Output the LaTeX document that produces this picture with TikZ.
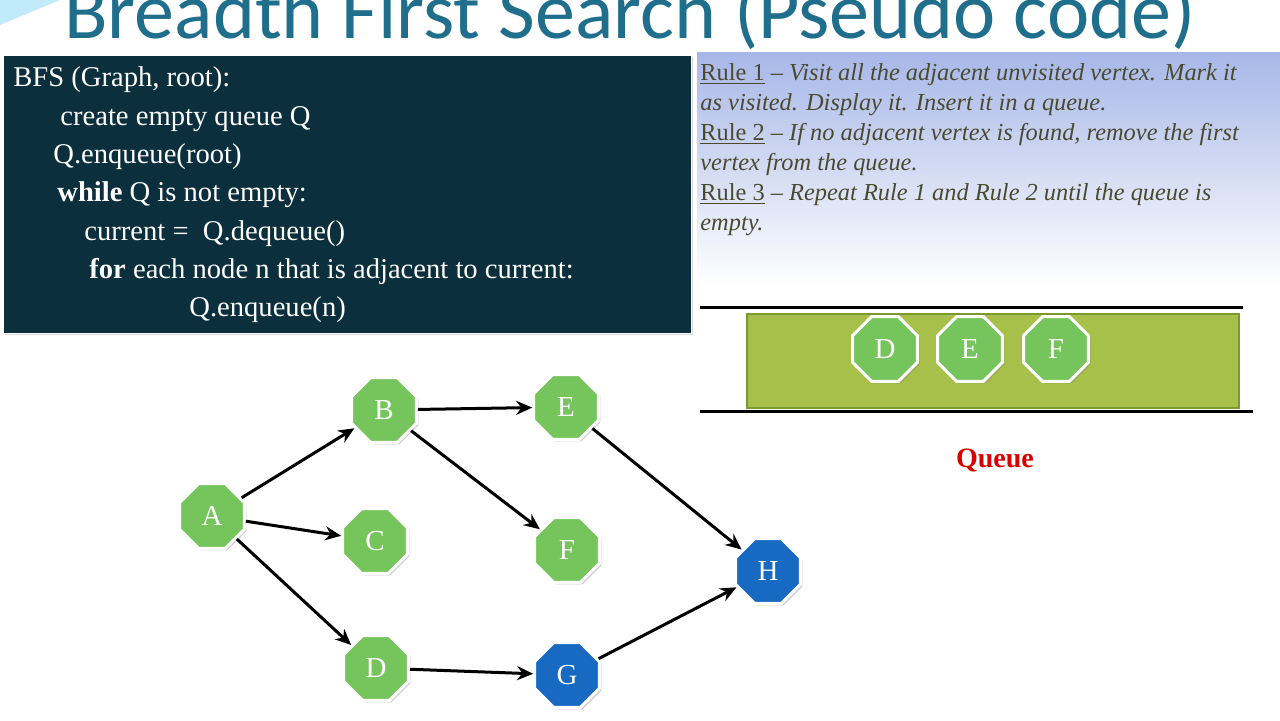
\documentclass[tikz,border=0pt]{standalone}
\usepackage{fontspec}
\setmainfont{Liberation Serif}
\newfontfamily\titlefont{Carlito}
\usetikzlibrary{shapes.geometric,arrows.meta,shadows}
\definecolor{teal1}{HTML}{1F6E8C}
\definecolor{codebg}{HTML}{0C2F3D}
\definecolor{gr}{HTML}{76C55C}
\definecolor{bl}{HTML}{1769C2}
\definecolor{qfill}{HTML}{A6C04A}
\definecolor{qedge}{HTML}{7A9A30}
\definecolor{ruletxt}{HTML}{4A4A30}
\definecolor{lav}{HTML}{A7B7E8}
\begin{document}
\begin{tikzpicture}[x=0.5pt,y=-0.5pt,
  oct/.style={regular polygon,regular polygon sides=8,minimum size=35pt,inner sep=0pt,
    fill=gr,draw=white,line width=1.5pt,text=white,font=\fontsize{14.5}{14.5}\selectfont,
    drop shadow={shadow xshift=1pt,shadow yshift=-1pt,opacity=0.4}},
  blue/.style={oct,fill=bl},
  edge/.style={-{Stealth[length=8pt,width=7pt]},line width=1.5pt,black},
  code/.style={anchor=base west,inner sep=0pt,text=white,font=\fontsize{14.3}{14.3}\selectfont},
  rule/.style={anchor=base west,inner sep=0pt,text=ruletxt,font=\fontsize{12.2}{12.2}\selectfont}]
\useasboundingbox (0,0) rectangle (1280,720);
\fill[white] (0,0) rectangle (1280,720);
% title
\node[anchor=base,text=teal1,font=\titlefont\fontsize{40}{40}\selectfont] (title) at (630,38) {Breadth First Search (Pseudo code)};
\fill[cyan!40,opacity=0.6] (0,0) -- (60,0) -- (0,25) -- cycle;
% code box
\node[draw=white,fill=codebg,minimum width=344pt,minimum height=139pt,anchor=north west,inner sep=0pt,
  drop shadow={shadow xshift=1pt,shadow yshift=-1pt,opacity=0.3}] (codebox) at (3,55) {};
\node[code] (c1) at (13,86) {BFS (Graph, root):};
\node[code] (c2) at (60,125) {create empty queue Q};
\node[code] (c3) at (53,163) {Q.enqueue(root)};
\node[code] (c4) at (57,201) {\textbf{while} Q is not empty:};
\node[code] (c5) at (84,240) {current =\ \ Q.dequeue()};
\node[code] (c6) at (89,278) {\textbf{for} each node n that is adjacent to current:};
\node[code] (c7) at (189,316) {Q.enqueue(n)};
% rules box
\shade[top color=lav,bottom color=white] (697,52) rectangle (1280,285);
\begin{scope}
\clip (697,52) rectangle (1280,285);
\node[rule] (r1) at (700,80) {\underline{Rule 1} -- \textit{Visit all the adjacent unvisited vertex. Mark it}};
\node[rule] (r2) at (700,110) {\textit{as visited. Display it. Insert it in a queue.}};
\node[rule] (r3) at (700,140) {\underline{Rule 2} -- \textit{If no adjacent vertex is found, remove the first}};
\node[rule] (r4) at (700,170) {\textit{vertex from the queue.}};
\node[rule] (r5) at (700,200) {\underline{Rule 3} -- \textit{Repeat Rule 1 and Rule 2 until the queue is}};
\node[rule] (r6) at (700,230) {\textit{empty.}};
\end{scope}
% queue
\draw[line width=1.5pt] (700,307) -- (1243,307);
\node[fill=qfill,draw=qedge,line width=1.2pt,anchor=north west,minimum width=246pt,minimum height=47pt,inner sep=0pt] (qbox) at (746,313) {};
\draw[line width=1.5pt] (700,411) -- (1253,411);
\node[oct] (qD) at (885,349) {D};
\node[oct] (qE) at (970,349) {E};
\node[oct] (qF) at (1056,349) {F};
\node[text=red!85!black,font=\bfseries\fontsize{14}{14}\selectfont] (ql) at (995,460) {Queue};
% graph
\node[oct] (A) at (212,516) {A};
\node[oct] (B) at (384,410) {B};
\node[oct] (C) at (375,541) {C};
\node[oct] (D) at (376,668) {D};
\node[oct] (E) at (566,407) {E};
\node[oct] (F) at (567,550) {F};
\node[blue] (G) at (567,675) {G};
\node[blue] (H) at (768,571) {H};
\draw[edge] (A) -- (B);
\draw[edge] (A) -- (C);
\draw[edge] (A) -- (D);
\draw[edge] (B) -- (E);
\draw[edge] (B) -- (F);
\draw[edge] (E) -- (H);
\draw[edge] (D) -- (G);
\draw[edge] (G) -- (H);
\end{tikzpicture}
\end{document}
